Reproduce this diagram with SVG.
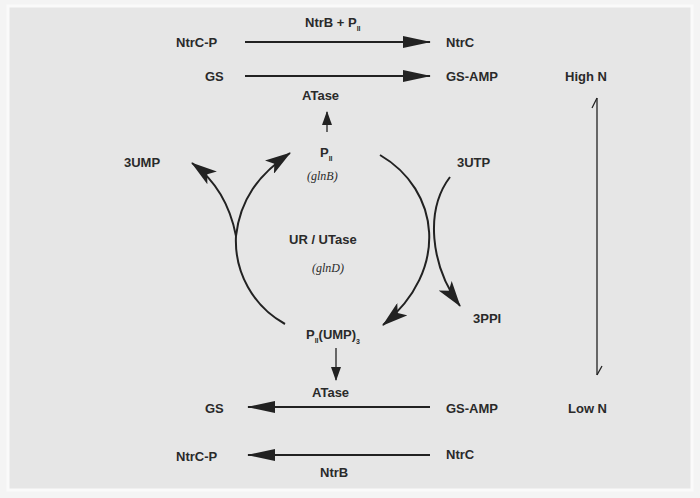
<svg xmlns="http://www.w3.org/2000/svg" width="700" height="498" viewBox="0 0 700 498">
<defs>
<style>
text{font-family:"Liberation Sans",Arial,sans-serif;font-size:13px;font-weight:bold;fill:#2a2a2a}
.i{font-family:"Liberation Serif",serif;font-style:italic;font-weight:normal;font-size:12px}
.s{font-size:7px}
.l{stroke:#222;stroke-width:2;fill:none}
.t{stroke:#222;stroke-width:1.3;fill:none}
</style>
<marker id="a" markerWidth="14" markerHeight="10" refX="13" refY="5" orient="auto" markerUnits="userSpaceOnUse"><path d="M0,0L14,5L0,10Z" fill="#222"/></marker>
<marker id="b" markerWidth="28" markerHeight="12" refX="27" refY="6" orient="auto" markerUnits="userSpaceOnUse"><path d="M0,0L28,6L0,12Z" fill="#222"/></marker>
<marker id="c" markerWidth="26" markerHeight="16" refX="25" refY="8" orient="auto" markerUnits="userSpaceOnUse"><path d="M0,0L26,8L0,16L6,8Z" fill="#222"/></marker>
</defs>
<rect width="700" height="498" fill="#f4f4f4"/>
<rect x="8" y="6" width="684" height="484" fill="#e6e6e6" stroke="#fafafa" stroke-width="3"/>
<g id="connectors">
<line class="l" x1="245" y1="42" x2="430" y2="42" marker-end="url(#b)"/>
<line class="l" x1="245" y1="76" x2="430" y2="76" marker-end="url(#b)"/>
<line class="t" x1="327" y1="132" x2="327" y2="112" marker-end="url(#a)"/>
<line class="t" x1="597" y1="375" x2="597" y2="98"/>
<path class="t" d="M597,98 L592,108"/>
<path class="t" d="M597,375 L602,366"/>
<path class="l" d="M285,324 A95,95 0 0 1 236,236"/>
<path class="l" d="M236,236 C230,205 215,180 192,163" marker-end="url(#c)"/>
<path class="l" d="M236,236 C240,200 258,175 290,153" marker-end="url(#c)"/>
<path class="l" d="M380,155 C440,190 450,270 383,325" marker-end="url(#c)"/>
<path class="l" d="M450,177 C425,210 430,265 460,306" marker-end="url(#c)"/>
<line class="t" x1="336" y1="348" x2="336" y2="380" marker-end="url(#a)"/>
<line class="l" x1="430" y1="407" x2="248" y2="407" marker-end="url(#b)"/>
<line class="l" x1="430" y1="455" x2="248" y2="455" marker-end="url(#b)"/>
</g>
<g id="n1"><text x="176" y="47">NtrC-P</text></g>
<g id="n2"><text x="305" y="27">NtrB  +  P<tspan class="s" dy="4">II</tspan></text></g>
<g id="n3"><text x="446" y="47">NtrC</text></g>
<g id="n4"><text x="205" y="81">GS</text></g>
<g id="n5"><text x="446" y="81">GS-AMP</text></g>
<g id="n6"><text x="565" y="81">High N</text></g>
<g id="n7"><text x="302" y="100">ATase</text></g>
<g id="n8"><text x="320" y="157">P<tspan class="s" dy="4">II</tspan></text><text class="i" x="307" y="180">(glnB)</text></g>
<g id="n9"><text x="124" y="167">3UMP</text></g>
<g id="n10"><text x="457" y="167">3UTP</text></g>
<g id="n11"><text x="289" y="244">UR / UTase</text><text class="i" x="312" y="272">(glnD)</text></g>
<g id="n12"><text x="473" y="323">3PPI</text></g>
<g id="n13"><text x="306" y="339">P<tspan class="s" dy="4">II</tspan><tspan dy="-4">(UMP)</tspan><tspan class="s" dy="5">3</tspan></text></g>
<g id="n14"><text x="312" y="397">ATase</text></g>
<g id="n15"><text x="205" y="413">GS</text></g>
<g id="n16"><text x="446" y="413">GS-AMP</text></g>
<g id="n17"><text x="568" y="413">Low N</text></g>
<g id="n18"><text x="176" y="461">NtrC-P</text></g>
<g id="n19"><text x="446" y="459">NtrC</text></g>
<g id="n20"><text x="320" y="477">NtrB</text></g>
</svg>
